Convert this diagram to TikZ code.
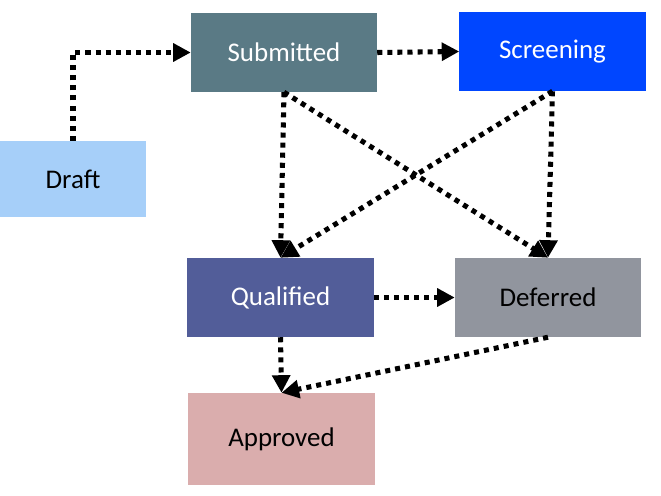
\documentclass[tikz,border=0pt]{standalone}
\usepackage{fontspec}
\setmainfont{Carlito}
\usepackage{tikz}
\usetikzlibrary{arrows.meta}
\definecolor{slate}{HTML}{5A7A85}
\definecolor{vivid}{HTML}{0046FF}
\definecolor{sky}{HTML}{A6CFF9}
\definecolor{indig}{HTML}{525D99}
\definecolor{ash}{HTML}{91959E}
\definecolor{rose}{HTML}{DAADAD}

\begin{document}
\begin{tikzpicture}[x=0.03cm,y=-0.03cm,line join=round,
  state/.style={minimum width=5.58cm,minimum height=2.37cm,inner sep=0pt,font=\fontsize{23}{27}\selectfont},
  flow/.style={line width=4.3pt,dash pattern=on 4.3pt off 4.3pt,-{Triangle[length=15pt,width=15pt]}}]
  \useasboundingbox (0,0) rectangle (661,495);
  % states
  \node[state,fill=slate,text=white] (sub) at (284,52.5) {Submitted};
  \node[state,fill=vivid,text=white] (scr) at (552.5,51.5) {Screening};
  \node[state,fill=sky,minimum width=4.38cm,minimum height=2.28cm] (dft) at (73,179) {Draft};
  \node[state,fill=indig,text=white] (qua) at (280.5,297.5) {Qualified};
  \node[state,fill=ash] (def) at (548,297.5) {Deferred};
  \node[state,fill=rose,minimum height=2.76cm] (app) at (281.5,439) {Approved};
  % transitions
  \draw[flow] (dft.north) |- (sub.west);
  \draw[flow] (sub.east) -- (scr.west);
  \draw[flow] (sub.south) -- (qua.north);
  \draw[flow] (sub.south) -- (def.north);
  \draw[flow] (scr.south) -- (qua.north);
  \draw[flow] (scr.south) -- (def.north);
  \draw[flow] (qua.east) -- (def.west);
  \draw[flow] (qua.south) -- (app.north);
  \draw[flow] (def.south) -- (app.north);
\end{tikzpicture}
\end{document}
